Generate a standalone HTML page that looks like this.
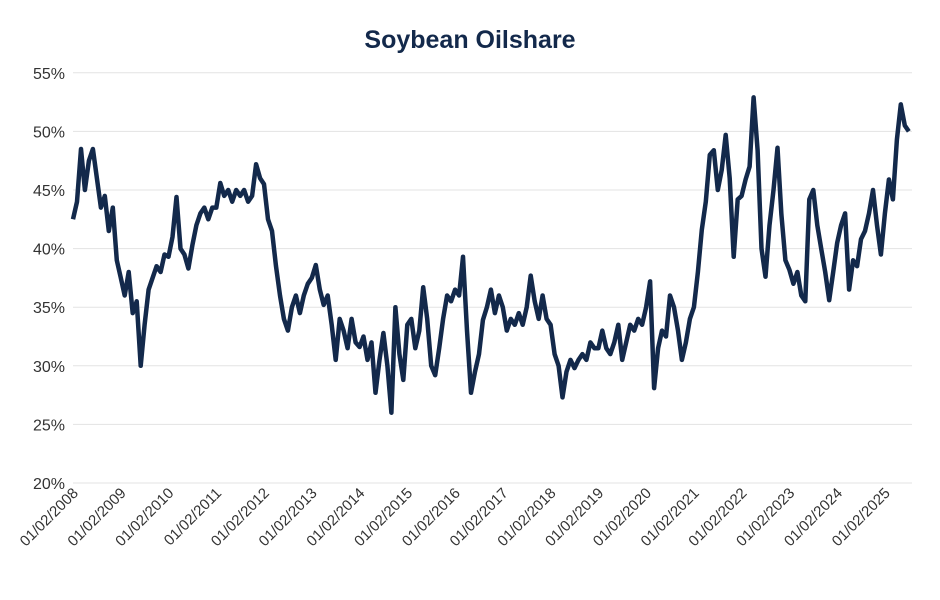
<!DOCTYPE html>
<html><head><meta charset="utf-8"><style>
body{margin:0;background:#fff;}
svg{display:block;font-family:"Liberation Sans",sans-serif;}
</style></head><body>
<svg width="940" height="600" viewBox="0 0 940 600">
<text x="470" y="48" text-anchor="middle" font-size="25" font-weight="bold" fill="#13294b">Soybean Oilshare</text>
<g id="grid"></g>
<g id="ylab"></g>
<g id="xlab"></g>
<path id="line" fill="none" stroke="#13294b" stroke-width="4.5" stroke-linejoin="round"/>
</svg>
<script>
const yTicks=[20,25,30,35,40,45,50,55];
const xTickYears=[2008,2009,2010,2011,2012,2013,2014,2015,2016,2017,2018,2019,2020,2021,2022,2023,2024,2025];
const startYear=2008;
const values=[
42.5,44,48.5,45,47.5,48.5,46,43.5,44.5,41.5,43.5,39,
37.5,36,38,34.5,35.5,30,33.5,36.5,37.5,38.5,38,39.5,
39.3,41,44.4,40,39.5,38.3,40.3,42,43,43.5,42.5,43.5,
43.5,45.6,44.5,45,44,45,44.5,45,44,44.5,47.2,46,
45.5,42.5,41.5,38.5,36,34,33,35,36,34.5,36,37,
37.5,38.6,36.5,35.2,36,33.5,30.5,34,33,31.5,34,32,
31.6,32.5,30.5,32,27.7,30.5,32.8,30,26,35,31,28.8,
33.5,34,31.5,33,36.7,34,30,29.2,31.5,34,36,35.5,
36.5,36,39.3,33,27.7,29.5,31,33.9,35,36.5,34.5,36,
35,33,34,33.5,34.5,33.5,35,37.7,35.5,34,36,34,
33.5,31,30,27.3,29.5,30.5,29.8,30.5,31,30.5,32,31.5,
31.5,33,31.5,31,32,33.5,30.5,32,33.5,33,34,33.5,
35,37.2,28.1,31.5,33,32.5,36,35,33,30.5,32,34,
35,38,41.6,44,48,48.4,45,46.7,49.7,46,39.3,44.2,
44.5,45.9,47,52.9,48.4,40,37.6,42,45,48.6,42.9,39,
38.2,37,38,36,35.5,44.2,45,42,40,38,35.6,38,
40.5,42,43,36.5,39,38.5,40.8,41.5,43,45,42,39.5,
43,45.9,44.2,49.3,52.3,50.5,50
];
const X0=73,PX_PER_YEAR=47.76,Y0=483,PX_PER_PCT=11.72;
function xs(t){return X0+(t-startYear)*PX_PER_YEAR;}
function ys(v){return Y0-(v-20)*PX_PER_PCT;}
const NS="http://www.w3.org/2000/svg";
const grid=document.getElementById('grid'),ylab=document.getElementById('ylab'),xlab=document.getElementById('xlab');
yTicks.forEach(v=>{
 const l=document.createElementNS(NS,'line');
 
 
 l.setAttribute('x1',X0);l.setAttribute('x2',912);l.setAttribute('y1',ys(v));l.setAttribute('y2',ys(v));
 l.setAttribute('stroke','#e3e3e3');l.setAttribute('stroke-width','1');
 grid.appendChild(l);
 const t=document.createElementNS(NS,'text');
 
 
 t.setAttribute('x',65);t.setAttribute('y',ys(v)+6);t.setAttribute('text-anchor','end');
 t.setAttribute('font-size','16');t.setAttribute('fill','#333');
 t.textContent=v+'%';ylab.appendChild(t);
});
xTickYears.forEach(yr=>{
 const x=xs(yr);
 const t=document.createElementNS(NS,'text');
 
 
 t.setAttribute('text-anchor','end');t.setAttribute('font-size','15');t.setAttribute('fill','#333');
 t.setAttribute('transform','translate('+(x+6)+',494) rotate(-45)');
 t.textContent='01/02/'+yr;xlab.appendChild(t);
});
let d='';
values.forEach((v,i)=>{d+=(i?'L':'M')+xs(startYear+i/12).toFixed(1)+','+ys(v).toFixed(1);});
document.getElementById('line').setAttribute('d',d);
</script>
</body></html>
